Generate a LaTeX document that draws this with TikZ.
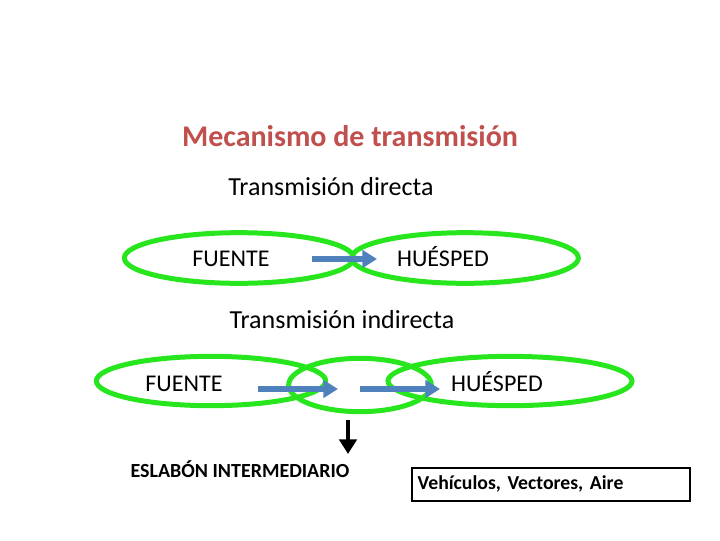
\documentclass[tikz,border=0pt]{standalone}
\usepackage{fontspec}
\setmainfont{Carlito}
\usetikzlibrary{arrows.meta,shapes.geometric}
\definecolor{ringgreen}{RGB}{40,230,30}
\definecolor{arrowblue}{RGB}{79,129,189}
\definecolor{titlered}{RGB}{192,80,77}

\begin{document}
\begin{tikzpicture}[x=0.75pt,y=-0.75pt,
        ring/.style={ellipse,draw=ringgreen,line width=3.75pt,inner sep=0pt},
        flow/.style={-{Triangle[length=11pt,width=13pt]},arrowblue,line width=4.5pt},
        down/.style={-{Triangle[length=11pt,width=13pt]},black,line width=3.5pt},
        word/.style={font=\fontsize{18}{21}\selectfont,text height=2.2ex,text depth=0.3ex}]
        \useasboundingbox (0,0) rectangle (720,540);

        % directa
        \node[ring,minimum width=172pt,minimum height=38pt] (D1) at (239,258) {};
        \node[ring,minimum width=170pt,minimum height=38pt] (D2) at (465,258) {};
        % indirecta
        \node[ring,minimum width=172pt,minimum height=37pt] (I1) at (211,381) {};
        \node[ring,minimum width=107pt,minimum height=40pt] (I2) at (360,385) {};
        \node[ring,minimum width=183pt,minimum height=37pt] (I3) at (510,381) {};

        \node[font=\fontsize{22.5}{27}\selectfont\bfseries,text=titlered] (T) at (350,136) {Mecanismo de transmisión};
        \node[word,font=\fontsize{19.5}{23}\selectfont] (TD) at (331,189) {Transmisión directa};
        \node[word] (F1) at (231,260) {FUENTE};
        \node[word] (H1) at (443,260) {HUÉSPED};
        \node[word,font=\fontsize{19.5}{23}\selectfont] (TI) at (342,322) {Transmisión indirecta};
        \node[word] (F2) at (184,385) {FUENTE};
        \node[word] (H2) at (497,385) {HUÉSPED};
        \node[font=\fontsize{15}{18}\selectfont\bfseries] (E) at (240,469) {ESLABÓN INTERMEDIARIO};
        \node[draw,line width=1.5pt,minimum width=208.5pt,minimum height=24.75pt,
              text width=200pt,align=left,font=\fontsize{14.8}{17}\selectfont\bfseries] (V) at (551,484) {Vehículos, Vectores, Aire};

        \coordinate (A) at (312,259);
        \coordinate (B) at (377,259);
        \coordinate (C) at (258,389);
        \coordinate (D) at (338,389);
        \coordinate (G) at (360,389);
        \coordinate (K) at (440,389);
        \coordinate (M) at (348,420);
        \coordinate (N) at (348,454);

        \draw[flow] (A) -- (B);
        \draw[flow] (C) -- (D);
        \draw[flow] (G) -- (K);
        \draw[down] (M) -- (N);
    \end{tikzpicture}
\end{document}
